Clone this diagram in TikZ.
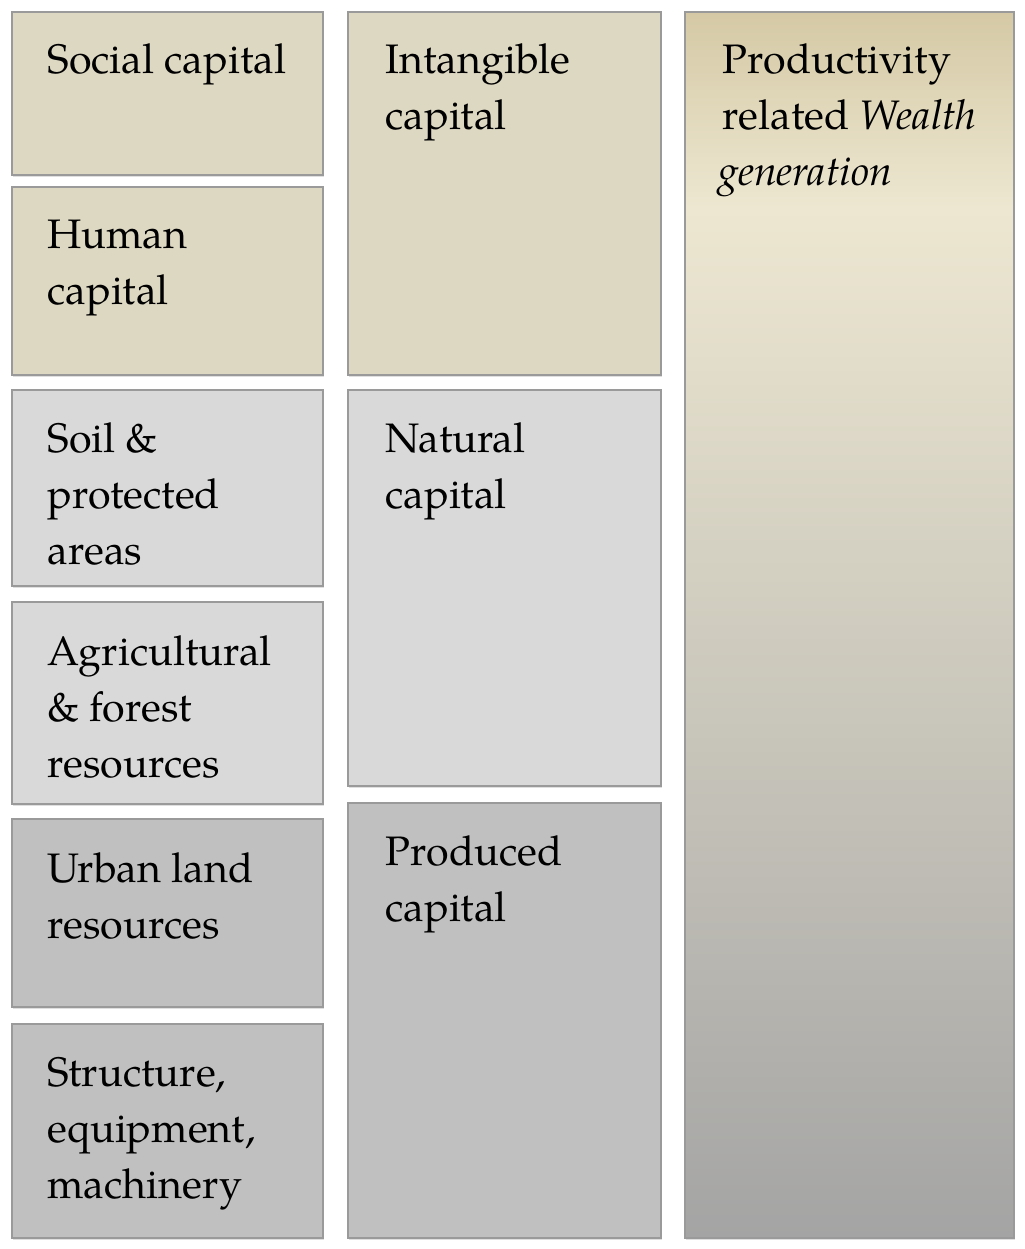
\documentclass[tikz,border=0pt]{standalone}
\usepackage{fontspec}
\setmainfont{texgyrepagella}[Extension=.otf, UprightFont=*-regular, ItalicFont=*-italic, BoldFont=*-bold]
\usetikzlibrary{positioning,shadows}

\definecolor{tanbox}{RGB}{221,216,194}
\definecolor{lightbox}{RGB}{217,217,217}
\definecolor{darkbox}{RGB}{192,192,192}
\definecolor{boxline}{RGB}{154,154,154}
\definecolor{tantop}{RGB}{213,201,165}
\definecolor{cream}{RGB}{237,231,209}
\definecolor{graybot}{RGB}{164,164,164}

\pgfdeclareverticalshading{wealth}{100bp}{color(0bp)=(graybot); color(25bp)=(graybot); color(67bp)=(cream); color(75bp)=(tantop); color(100bp)=(tantop)}

\tikzset{
  box/.style={draw=boxline, line width=1pt, inner sep=0pt, anchor=north west,
    drop shadow={shadow xshift=0.5pt, shadow yshift=-0.8pt, opacity=0.25, fill=black!50}},
  txt/.style={align=left, anchor=north west, inner sep=0pt,
    font=\fontsize{20.6}{28}\selectfont}
}

\begin{document}
\begin{tikzpicture}[x=0.5pt,y=-0.5pt]
  \useasboundingbox (0,0) rectangle (1024,1249);
  % left column
  \node[box, fill=tanbox, minimum width=155.5pt, minimum height=81.5pt] (social) at (11,11) {};
  \node[box, fill=tanbox, minimum width=155.5pt, minimum height=94pt] (human) at (11,186) {};
  \node[box, fill=lightbox, minimum width=155.5pt, minimum height=98pt] (soil) at (11,389) {};
  \node[box, fill=lightbox, minimum width=155.5pt, minimum height=101pt] (agri) at (11,601) {};
  \node[box, fill=darkbox, minimum width=155.5pt, minimum height=94pt] (urban) at (11,818) {};
  \node[box, fill=darkbox, minimum width=155.5pt, minimum height=107pt] (struct) at (11,1023) {};
  % middle column
  \node[box, fill=tanbox, minimum width=156.5pt, minimum height=181.5pt] (intang) at (347,11) {};
  \node[box, fill=lightbox, minimum width=156.5pt, minimum height=198pt] (natural) at (347,389) {};
  \node[box, fill=darkbox, minimum width=156.5pt, minimum height=217.5pt] (produced) at (347,802) {};
  % right column
  \node[box, shading=wealth, minimum width=164.5pt, minimum height=613pt] (wealth) at (684,11) {};

  % labels
  \node[txt, below right=16pt and 18pt of social.north west] (socialtxt) {Social capital};
  \node[txt, below right=16.6pt and 18pt of human.north west] (humantxt) {Human\\capital};
  \node[txt, below right=16.6pt and 18pt of soil.north west] (soiltxt) {Soil \&\\protected\\areas};
  \node[txt, below right=17pt and 18pt of agri.north west] (agritxt) {Agricultural\\\& forest\\resources};
  \node[txt, below right=17pt and 18pt of urban.north west] (urbantxt) {Urban land\\resources};
  \node[txt, below right=17pt and 18pt of struct.north west] (structtxt) {Structure,\\equipment,\\machinery};
  \node[txt, below right=16pt and 19pt of intang.north west] (intangtxt) {Intangible\\capital};
  \node[txt, below right=16.6pt and 19pt of natural.north west] (naturaltxt) {Natural\\capital};
  \node[txt, below right=16.6pt and 19pt of produced.north west] (producedtxt) {Produced\\capital};
  \node[txt, below right=16pt and 19pt of wealth.north west] (wealthtxt) {Productivity\\related \textit{Wealth}\\\kern-2pt\textit{generation}};
\end{tikzpicture}
\end{document}
